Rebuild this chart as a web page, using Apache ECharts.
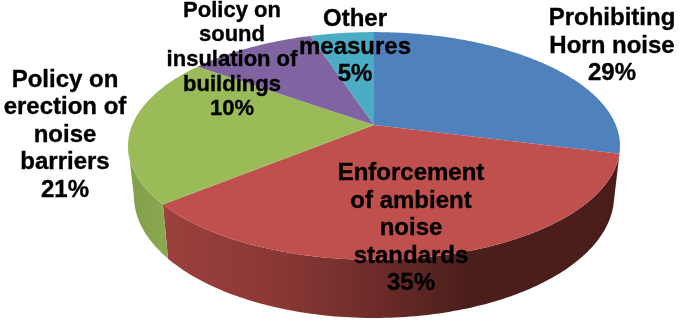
<!DOCTYPE html>
<html>
<head>
<meta charset="utf-8">
<style>
html,body{margin:0;padding:0;background:#fff;}
#chart{width:685px;height:325px;filter:blur(0.6px);}
</style>
<script src="https://cdn.jsdelivr.net/npm/echarts@6/dist/echarts.min.js"></script>
</head>
<body>
<div id="chart"></div>
<script>
// ---- data ----
const categories = [
  'Prohibiting\nHorn noise',
  'Enforcement\nof ambient\nnoise\nstandards',
  'Policy on\nerection of\nnoise\nbarriers',
  'Policy on\nsound\ninsulation of\nbuildings',
  'Other\nmeasures'
];
const values = [29, 35, 21, 10, 5];
const topColors = ['#4f81bd', '#c0504d', '#9bbb59', '#8064a2', '#4bacc6'];

// ---- projection of the tilted disc ----
const P = 0.184;
const TOP = { cx: 374, cy: 125, a: 241.8, b: 110 };
const BOTTOM = { cx: 374, cy: 173.5, a: 236, b: 117.9 };
// the rim is visible only between the two silhouette angles
const RIM_FROM = Math.acos(-P);
const RIM_TO = 2 * Math.PI - RIM_FROM;
function project(plane, t) {
  const X = Math.sin(t), Y = Math.cos(t), d = 1 + P * Y;
  return [plane.cx + plane.a * X / d, plane.cy - plane.b * Y / d];
}
function arc(plane, t0, t1) {
  const n = Math.max(2, Math.ceil((t1 - t0) / (Math.PI / 180)));
  const pts = [];
  for (let i = 0; i <= n; i++) pts.push(project(plane, t0 + (t1 - t0) * i / n));
  return pts;
}

// ---- label placement (block centre) and side shading ----
const labelStyle = [
  { x: 612, y: 46, size: 24, lh: 27.5 },
  { x: 411, y: 228.5, size: 24, lh: 27.5 },
  { x: 65, y: 135, size: 24, lh: 27.5 },
  { x: 232, y: 60, size: 22, lh: 24.6 },
  { x: 355, y: 47, size: 24, lh: 27.5 }
];
const sideFill = [
  null,
  new echarts.graphic.LinearGradient(0, 0, 1, 0, [
    { offset: 0, color: '#9b403d' },
    { offset: 0.25, color: '#8a3835' },
    { offset: 0.46, color: '#6e2c2a' },
    { offset: 0.66, color: '#4c1f1c' },
    { offset: 1, color: '#4a1d1b' }
  ]),
  new echarts.graphic.LinearGradient(0, 0, 1, 0, [
    { offset: 0, color: '#82a04c' },
    { offset: 1, color: '#8ba84f' }
  ]),
  null,
  null
];

const total = values.reduce((s, v) => s + v, 0);
const starts = [];
values.reduce((s, v, i) => { starts[i] = s; return s + v; }, 0);

function renderItem(params, api) {
  const i = params.dataIndex;
  const v = api.value(0);
  const t0 = starts[i] / total * 2 * Math.PI;
  const t1 = (starts[i] + v) / total * 2 * Math.PI;
  const topArc = arc(TOP, t0, t1);
  const l = labelStyle[i];
  const children = [];
  const r0 = Math.max(t0, RIM_FROM), r1 = Math.min(t1, RIM_TO);
  if (sideFill[i] && r1 > r0) {
    children.push({
      type: 'polygon', z2: 1,
      shape: { points: arc(TOP, r0, r1).concat(arc(BOTTOM, r0, r1).reverse()) },
      style: { fill: sideFill[i] }
    });
  }
  children.push(
    { type: 'polygon', z2: 2, shape: { points: [[TOP.cx, TOP.cy]].concat(topArc) }, style: { fill: topColors[i] } },
    { type: 'text', z2: 10, style: {
        text: categories[i] + '\n' + v + '%',
        x: l.x, y: l.y, align: 'center', verticalAlign: 'middle',
        fill: '#000', stroke: '#000', lineWidth: 0.35,
        font: 'bold ' + l.size + 'px "Liberation Sans", Arial, sans-serif',
        lineHeight: l.lh
    } }
  );
  return { type: 'group', children };
}

const chart = echarts.init(document.getElementById('chart'), null, { renderer: 'canvas' });
chart.setOption({
  animation: false,
  backgroundColor: '#ffffff',
  series: [{
    type: 'custom',
    coordinateSystem: 'none',
    renderItem,
    data: values.map((v, i) => ({ name: categories[i], value: [v] }))
  }]
});
</script>
</body>
</html>
